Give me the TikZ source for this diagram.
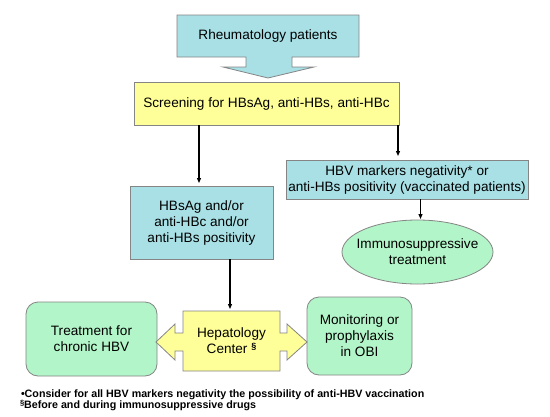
\documentclass[tikz,border=0pt]{standalone}
\usepackage{fontspec}
\setmainfont{Liberation Sans}
\usetikzlibrary{arrows.meta,shapes.geometric,calc}
\definecolor{cy}{HTML}{A8E0E5}
\definecolor{yl}{HTML}{FFFF99}
\definecolor{gr}{HTML}{B2F5C8}
\definecolor{bd}{HTML}{858585}
\begin{document}
\begin{tikzpicture}[x=1pt,y=-1pt,
  every node/.style={inner sep=0pt, outer sep=0pt, align=center, font=\fontsize{13.6}{16}\selectfont},
  box/.style={draw=bd, line width=0.8pt, rectangle},
  shp/.style={draw=bd, line width=0.8pt},
  arr/.style={-{Triangle[length=5pt,width=4pt]}, line width=1.1pt, black}]
\useasboundingbox (0,0) rectangle (550,416);
\fill[white] (0,0) rectangle (550,416);

% top callout
\draw[shp, fill=cy] (177,15) -- (359,15) -- (359,57) -- (292,57) -- (292,67) -- (314,67) -- (268,78) -- (223,67) -- (246,67) -- (246,57) -- (177,57) -- cycle;
\node (rp) at (268,36) {Rheumatology patients};

\node[box, fill=yl, minimum width=265pt, minimum height=43pt] (scr) at (266.5,103.5) {Screening for HBsAg, anti-HBs, anti-HBc};
\node[box, fill=cy, minimum width=143pt, minimum height=73pt] (hb) at (201.5,222.5) {HBsAg and/or\\anti-HBc and/or\\anti-HBs positivity};
\node[box, fill=cy, minimum width=242pt, minimum height=39pt] (hbv) at (407,179.5) {HBV markers negativity* or\\anti-HBs positivity (vaccinated patients)};

\draw[shp, fill=gr] (417.5,252) ellipse [x radius=75.5, y radius=32];
\node[minimum width=151pt, minimum height=64pt] (ell) at (417.5,252) {Immunosuppressive\\treatment};

\node[box, fill=gr, rounded corners=12pt, minimum width=131pt, minimum height=74pt] (tr) at (91.5,339) {Treatment for\\chronic HBV};
\node[box, fill=gr, rounded corners=12pt, minimum width=105pt, minimum height=78pt] (mon) at (359.5,336) {Monitoring or\\prophylaxis\\in OBI};

% hepatology callout
\draw[shp, fill=yl] (183,311) -- (280,311) -- (280,333) -- (287,333) -- (287,324) -- (307,342) -- (287,360) -- (287,351) -- (280,351) -- (280,371) -- (183,371) -- (183,351) -- (175,351) -- (175,360) -- (156,342) -- (175,324) -- (175,333) -- (183,333) -- cycle;
\node[minimum width=97pt, minimum height=60pt] (hep) at (231.5,341) {Hepatology\\Center {\fontsize{9}{9}\selectfont\bfseries\raisebox{4pt}{§}}};

% connectors
\draw[arr] ([xshift=-2.5pt]hb.north |- scr.south) -- ([xshift=-2.5pt,yshift=3pt]hb.north);
\draw[arr] ([xshift=-1pt]scr.south east) -- ([xshift=-1pt,yshift=4pt]scr.south east |- hbv.north);
\draw[arr] ([xshift=3pt]ell.north |- hbv.south) -- ([xshift=3pt,yshift=1pt]ell.north);
\draw[arr] ([xshift=-1.5pt]hep.north |- hb.south) -- ([xshift=-1.5pt,yshift=2pt]hep.north);

% footnotes
\node[anchor=base west, font=\fontsize{10.7}{11}\selectfont\bfseries] (f1) at (21,397) {•Consider for all HBV markers negativity the possibility of anti-HBV vaccination};
\node[anchor=base west, font=\fontsize{10.7}{11}\selectfont\bfseries] (f2) at (20,408) {\raisebox{3pt}{\fontsize{7.5}{7.5}\selectfont §}Before and during immunosuppressive drugs};
\end{tikzpicture}
\end{document}
